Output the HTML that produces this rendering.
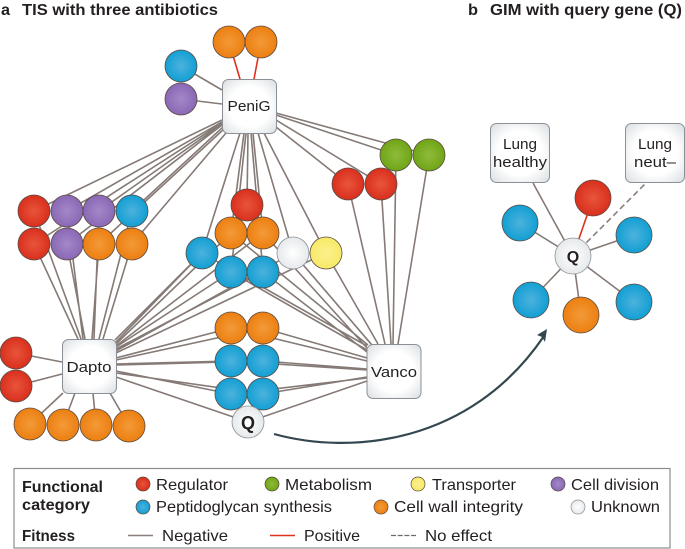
<!DOCTYPE html>
<html><head><meta charset="utf-8">
<style>
html,body{margin:0;padding:0;background:#fff;width:685px;height:549px;overflow:hidden}
svg{display:block;font-family:"Liberation Sans",sans-serif}
text{fill:#231f20}
.t{font-weight:bold;font-size:16px}
.l{font-size:16px}
.b{font-size:15px;text-anchor:middle}
</style></head><body>
<svg width="685" height="549" viewBox="0 0 685 549" xmlns="http://www.w3.org/2000/svg">
<defs>
<radialGradient id="r"><stop offset="0" stop-color="#e8553a"/><stop offset="1" stop-color="#d92f1e"/></radialGradient>
<radialGradient id="o"><stop offset="0" stop-color="#f39a38"/><stop offset="1" stop-color="#ec7f11"/></radialGradient>
<radialGradient id="c"><stop offset="0" stop-color="#4db2dd"/><stop offset="1" stop-color="#129fd3"/></radialGradient>
<radialGradient id="p"><stop offset="0" stop-color="#a388c8"/><stop offset="1" stop-color="#8a68b5"/></radialGradient>
<radialGradient id="g"><stop offset="0" stop-color="#8fbb3c"/><stop offset="1" stop-color="#6fa516"/></radialGradient>
<radialGradient id="y"><stop offset="0" stop-color="#fbf18e"/><stop offset="1" stop-color="#f8e968"/></radialGradient>
<radialGradient id="w"><stop offset="0" stop-color="#fff"/><stop offset="1" stop-color="#e6e9eb"/></radialGradient>
<radialGradient id="s" cx="50%" cy="50%" r="68%"><stop offset="0.55" stop-color="#fff"/><stop offset="1" stop-color="#dce0e3"/></radialGradient>
</defs>

<g stroke="#857a75" stroke-width="1.6" fill="none">
<path d="M222 90L181 66M222 104L181 99
M222 120L34 211M222 122L67 211M222 123L34 244M222 124L99 211M222 125L67 244M223 127L132 211M224 129L99 244M226 133L132 244
M78 339L34 244M81 339L34 211M85 339L67 244M83 339L67 211M94 339L99 211M92 339L99 244M99 339L132 211M103 339L132 244
M62 362L16 353M62 374L16 386M63 393L30 424M75 393L63 425M93 393L96 425M110 393L129 426
M240 133L202 253M244 133L231 233M246 133L231 272M248 133L247 205M251 133L263 272M253 133L263 233M258 133L293 253M264 133L326 253
M276 113L429 155M276 115L396 155M276 120L381 184M276 127L348 184
M398 344L429 155M393 344L396 155M391 344L381 184M385 344L348 184M378 344L326 253M371 344L293 253M372 345L293 253
M367 346L202 253M368 345L231 233M367 348L263 233M367 350L231 272M367 352L263 272
M115 340L202 253M116 342L202 253M116 344L231 233M116 346L263 233M116 347L231 272M116 349L263 272M116 351L293 253M116 353L326 253
M116 358L231 328M116 360L263 328M116 364L231 361M116 365L263 361M116 371L231 394M116 373L263 394M116 377L248 422
M367 358L263 328M367 361L231 328M367 369L263 361M367 370L231 361M367 377L263 394M367 378L231 394M367 381L248 422
M533 183L573 256M573 256L520 223M573 256L634 235M573 256L531 300M573 256L581 315M573 256L634 302"/>
</g>
<path d="M229 42L240 79M261 42L254 79M573 256L593 198" stroke="#e0301e" stroke-width="1.6" fill="none"/>
<path d="M573 256L646 183" stroke="#8a7f7a" stroke-width="1.6" stroke-dasharray="6 3.500" fill="none"/>

<g stroke="#5a4a42" stroke-width="0.8">
<circle cx="229" cy="42" r="16" fill="url(#o)"/><circle cx="261" cy="42" r="16" fill="url(#o)"/>
<circle cx="181" cy="66" r="16" fill="url(#c)"/><circle cx="181" cy="99" r="16" fill="url(#p)"/>
<circle cx="34" cy="211" r="16" fill="url(#r)"/><circle cx="67" cy="211" r="16" fill="url(#p)"/><circle cx="99" cy="211" r="16" fill="url(#p)"/><circle cx="132" cy="211" r="16" fill="url(#c)"/>
<circle cx="34" cy="244" r="16" fill="url(#r)"/><circle cx="67" cy="244" r="16" fill="url(#p)"/><circle cx="99" cy="244" r="16" fill="url(#o)"/><circle cx="132" cy="244" r="16" fill="url(#o)"/>
<circle cx="16" cy="353" r="16" fill="url(#r)"/><circle cx="16" cy="386" r="16" fill="url(#r)"/>
<circle cx="30" cy="424" r="16" fill="url(#o)"/><circle cx="63" cy="425" r="16" fill="url(#o)"/><circle cx="96" cy="425" r="16" fill="url(#o)"/><circle cx="129" cy="426" r="16" fill="url(#o)"/>
<circle cx="247" cy="205" r="16" fill="url(#r)"/>
<circle cx="202" cy="253" r="16" fill="url(#c)"/>
<circle cx="231" cy="233" r="16" fill="url(#o)"/><circle cx="263" cy="233" r="16" fill="url(#o)"/>
<circle cx="231" cy="272" r="16" fill="url(#c)"/><circle cx="263" cy="272" r="16" fill="url(#c)"/>
<circle cx="293" cy="253" r="16" fill="url(#w)" stroke="#8a9096"/><circle cx="326" cy="253" r="16" fill="url(#y)"/>
<circle cx="396" cy="155" r="16" fill="url(#g)"/><circle cx="429" cy="155" r="16" fill="url(#g)"/>
<circle cx="348" cy="184" r="16" fill="url(#r)"/><circle cx="381" cy="184" r="16" fill="url(#r)"/>
<circle cx="231" cy="328" r="16" fill="url(#o)"/><circle cx="263" cy="328" r="16" fill="url(#o)"/>
<circle cx="231" cy="361" r="16" fill="url(#c)"/><circle cx="263" cy="361" r="16" fill="url(#c)"/>
<circle cx="231" cy="394" r="16" fill="url(#c)"/><circle cx="263" cy="394" r="16" fill="url(#c)"/>
<circle cx="248" cy="422" r="16" fill="url(#w)" stroke="#8a9096"/>
<circle cx="593" cy="198" r="18" fill="url(#r)"/><circle cx="520" cy="223" r="18" fill="url(#c)"/><circle cx="634" cy="235" r="18" fill="url(#c)"/>
<circle cx="531" cy="300" r="18" fill="url(#c)"/><circle cx="581" cy="315" r="18" fill="url(#o)"/><circle cx="634" cy="302" r="18" fill="url(#c)"/>
<circle cx="573" cy="256" r="18" fill="url(#w)" stroke="#8a9096"/>
</g>

<g fill="url(#s)" stroke="#8a9096" stroke-width="1">
<rect x="222.500" y="79.500" width="54" height="54" rx="6"/>
<rect x="62.500" y="339.500" width="54" height="54" rx="6"/>
<rect x="367" y="344.500" width="54" height="54" rx="6"/>
<rect x="490.500" y="123.500" width="59" height="59" rx="6"/>
<rect x="625.500" y="123.500" width="59" height="59" rx="6"/>
</g>

<path d="M274 434C350 455 470 445 544 336" stroke="#33474f" stroke-width="2.2" fill="none"/>
<path d="M547 329L537 335L542 337L545 342Z" fill="#33474f"/>

<text class="t" x="1" y="15" textLength="9" lengthAdjust="spacingAndGlyphs">a</text>
<text class="t" x="22" y="15" textLength="196" lengthAdjust="spacingAndGlyphs">TIS with three antibiotics</text>
<text class="t" x="468" y="15" textLength="10" lengthAdjust="spacingAndGlyphs">b</text>
<text class="t" x="490" y="15" textLength="192" lengthAdjust="spacingAndGlyphs">GIM with query gene (Q)</text>

<text class="b" x="249" y="111" textLength="43" lengthAdjust="spacingAndGlyphs">PeniG</text>
<text class="b" x="89" y="372" textLength="45" lengthAdjust="spacingAndGlyphs">Dapto</text>
<text class="b" x="394" y="377" textLength="46" lengthAdjust="spacingAndGlyphs">Vanco</text>
<text class="b" x="520" y="149" textLength="34" lengthAdjust="spacingAndGlyphs">Lung</text>
<text class="b" x="520" y="167" textLength="54" lengthAdjust="spacingAndGlyphs">healthy</text>
<text class="b" x="655" y="149" textLength="34" lengthAdjust="spacingAndGlyphs">Lung</text>
<text class="b" x="655" y="167" textLength="42" lengthAdjust="spacingAndGlyphs">neut–</text>
<text x="248" y="429" text-anchor="middle" font-weight="bold" font-size="18">Q</text>
<text x="573" y="262" text-anchor="middle" font-weight="bold" font-size="16">Q</text>

<rect x="14" y="468.500" width="656" height="79.500" fill="#fff" stroke="#8c8c8c" stroke-width="1.2"/>
<text class="l" x="22" y="492" textLength="81" lengthAdjust="spacingAndGlyphs" style="font-weight:bold">Functional</text>
<text class="l" x="22" y="510" textLength="68" lengthAdjust="spacingAndGlyphs" style="font-weight:bold">category</text>
<text class="l" x="22" y="541" textLength="53" lengthAdjust="spacingAndGlyphs" style="font-weight:bold">Fitness</text>

<g stroke="#5a4a42" stroke-width="0.7">
<circle cx="143" cy="484" r="7" fill="url(#r)"/><circle cx="272" cy="484" r="7" fill="url(#g)"/><circle cx="418" cy="484" r="7" fill="url(#y)"/><circle cx="558" cy="484" r="7" fill="url(#p)"/>
<circle cx="143" cy="507" r="7" fill="url(#c)"/><circle cx="381" cy="507" r="7" fill="url(#o)"/><circle cx="578" cy="507" r="7" fill="url(#w)" stroke="#8a9096"/>
</g>
<text class="l" x="156" y="490" textLength="72" lengthAdjust="spacingAndGlyphs">Regulator</text>
<text class="l" x="285" y="490" textLength="87" lengthAdjust="spacingAndGlyphs">Metabolism</text>
<text class="l" x="432" y="490" textLength="84" lengthAdjust="spacingAndGlyphs">Transporter</text>
<text class="l" x="571" y="490" textLength="88" lengthAdjust="spacingAndGlyphs">Cell division</text>
<text class="l" x="156" y="512" textLength="176" lengthAdjust="spacingAndGlyphs">Peptidoglycan synthesis</text>
<text class="l" x="394" y="512" textLength="129" lengthAdjust="spacingAndGlyphs">Cell wall integrity</text>
<text class="l" x="591" y="512" textLength="69" lengthAdjust="spacingAndGlyphs">Unknown</text>
<path d="M128 535.500H153" stroke="#8a7f7a" stroke-width="1.5"/>
<path d="M270 535.500H295" stroke="#e0301e" stroke-width="1.5"/>
<path d="M391 535.500H416" stroke="#6a6a6a" stroke-width="1.3" stroke-dasharray="5 1.700"/>
<text class="l" x="162" y="541" textLength="66" lengthAdjust="spacingAndGlyphs">Negative</text>
<text class="l" x="304" y="541" textLength="56" lengthAdjust="spacingAndGlyphs">Positive</text>
<text class="l" x="425" y="541" textLength="67" lengthAdjust="spacingAndGlyphs">No effect</text>
</svg>
</body></html>
